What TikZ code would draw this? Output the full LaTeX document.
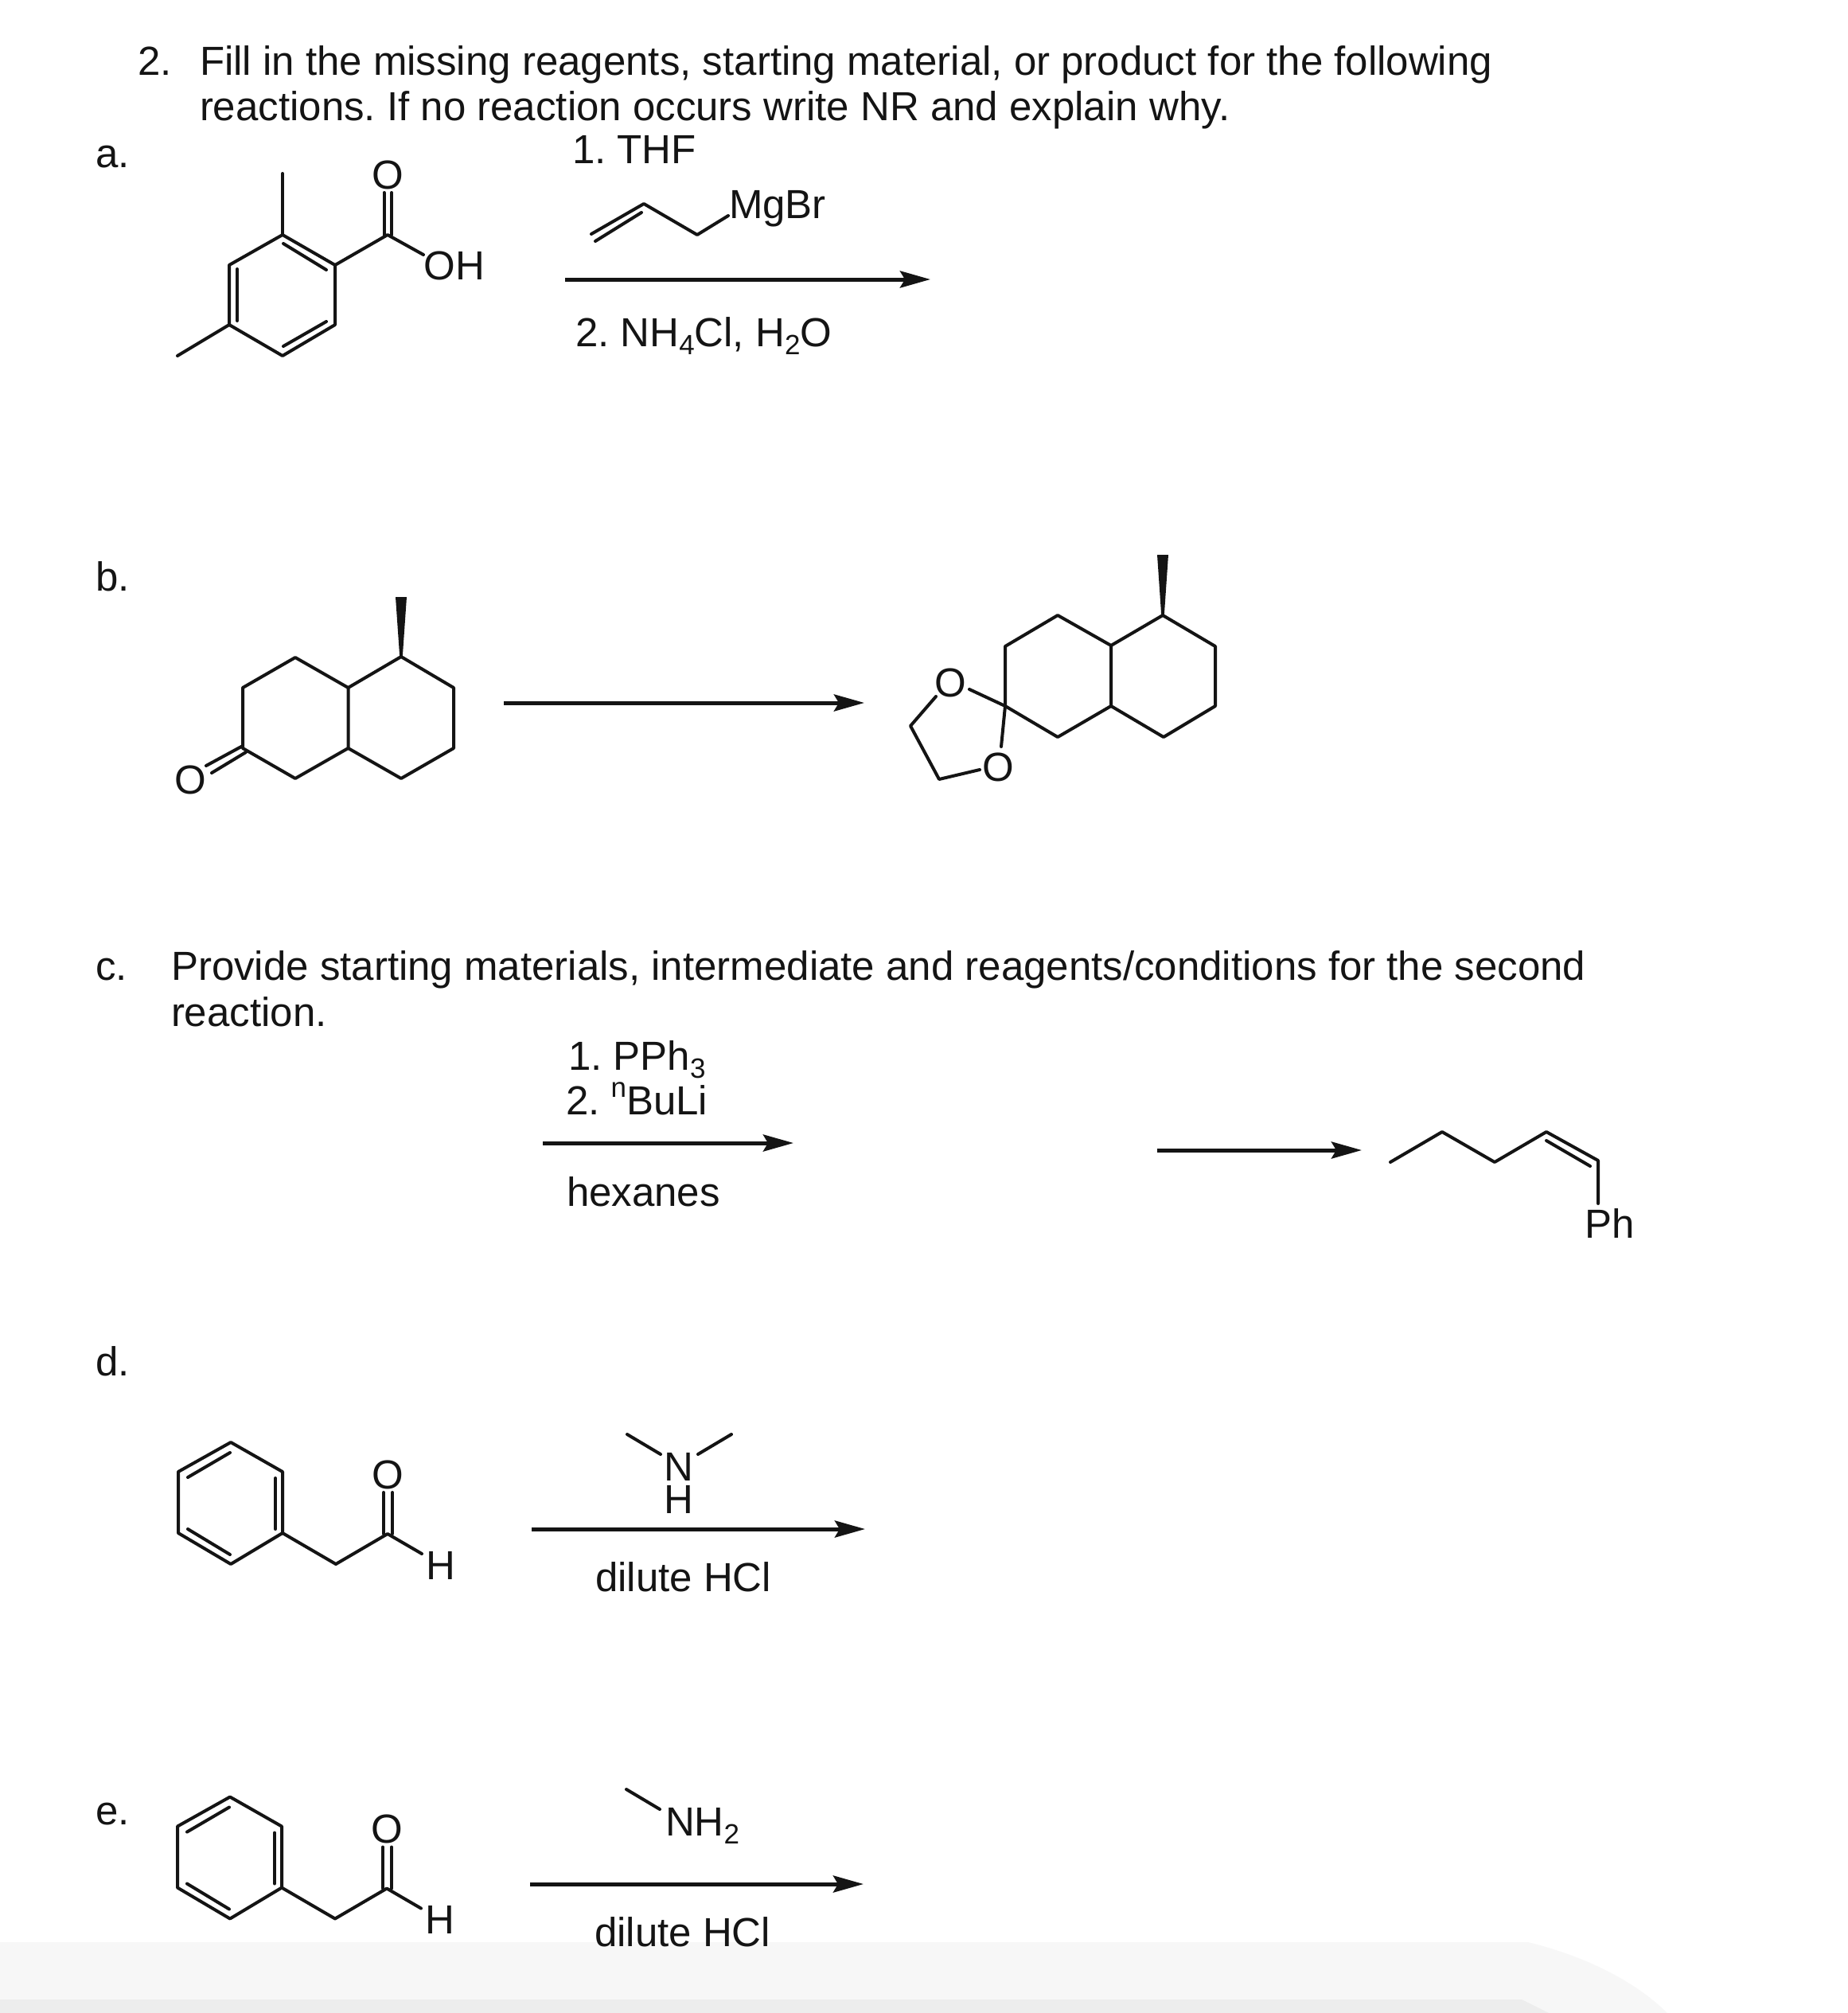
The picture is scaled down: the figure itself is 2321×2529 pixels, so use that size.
\documentclass[tikz,border=0pt]{standalone}
\usepackage{fontspec}
\setmainfont{Liberation Sans}
\usetikzlibrary{arrows.meta}
\definecolor{ink}{HTML}{141414}
\definecolor{bandA}{HTML}{F7F7F7}
\definecolor{bandB}{HTML}{EDEDED}
\frenchspacing
\newcommand{\lsub}[1]{\raisebox{-0.2em}{\fontsize{35}{35}\selectfont #1}}
\newcommand{\lsup}[1]{\raisebox{0.42em}{\fontsize{35}{35}\selectfont #1}}
\tikzset{
  bond/.style={draw=ink,line width=4pt,line cap=round,line join=round},
  rxn/.style={draw=ink,line width=5pt,-{Stealth[length=38pt,width=21pt,inset=6pt]}},
  lab/.style={inner sep=0pt,outer sep=0pt,text=ink,font=\fontsize{51}{51}\selectfont,text height=36.5pt,text depth=0pt},
  txt/.style={lab,anchor=west},
  wedge/.style={fill=ink,draw=none},
  phcho/.pic={
    \coordinate (r1) at (290,1812);
    \coordinate (r2) at (355,1849);
    \coordinate (r3) at (355,1926);
    \coordinate (r4) at (290,1965);
    \coordinate (r5) at (224,1926);
    \coordinate (r6) at (224,1849);
    \coordinate (i1) at (289,1825);
    \coordinate (i2) at (236,1856);
    \coordinate (i3) at (346,1857);
    \coordinate (i4) at (346,1921);
    \coordinate (i5) at (236,1921);
    \coordinate (i6) at (289,1953);
    \coordinate (ch) at (422,1965);
    \coordinate (co) at (487,1927);
    \coordinate (coa) at (482,1927);
    \coordinate (cob) at (493,1927);
    \coordinate (oa) at (482,1875);
    \coordinate (ob) at (493,1875);
    \coordinate (hb) at (530,1952);
    \node[lab] (oxy) at (487,1852) {O};
    \node[lab] (hyd) at (554,1966) {H};
    \draw[bond] (r1) -- (r2) -- (r3) -- (r4) -- (r5) -- (r6) -- cycle;
    \draw[bond] (i1) -- (i2);
    \draw[bond] (i3) -- (i4);
    \draw[bond] (i5) -- (i6);
    \draw[bond] (r3) -- (ch) -- (co) -- (hb);
    \draw[bond] (coa) -- (oa);
    \draw[bond] (cob) -- (ob);
  }
}
\begin{document}
\begin{tikzpicture}[x=1pt,y=-1pt]
\useasboundingbox (0,0) rectangle (2321,2529);
\fill[white] (0,0) rectangle (2321,2529);
\fill[bandA] (0,2440) -- (1920,2440) .. controls (1985,2456) and (2050,2485) .. (2095,2529) -- (0,2529) -- cycle;
\fill[bandB] (0,2512) -- (1912,2512) -- (1946,2529) -- (0,2529) -- cycle;

% heading
\node[txt] (n2) at (173,76) {2.};
\node[txt] (h1) at (251,76) {Fill in the missing reagents, starting material, or product for the following};
\node[txt] (h2) at (251,133) {reactions. If no reaction occurs write NR and explain why.};
\node[txt] (la) at (120,192) {a.};
\node[txt] (lb) at (120,724) {b.};
\node[txt] (lc) at (120,1213) {c.};
\node[txt] (ld) at (120,1710) {d.};
\node[txt] (le) at (120,2274) {e.};
\node[txt] (c1) at (215,1213) {Provide starting materials, intermediate and reagents/conditions for the second};
\node[txt] (c2) at (215,1271) {reaction.};

% a: acid
\coordinate (am1) at (355,218);
\coordinate (a1) at (355,295);
\coordinate (a2) at (421,333);
\coordinate (a3) at (421,408);
\coordinate (a4) at (355,447);
\coordinate (a5) at (288,408);
\coordinate (a6) at (288,333);
\coordinate (am2) at (223,447);
\coordinate (ac) at (487,295);
\coordinate (aca) at (482.5,295);
\coordinate (acb) at (492,295);
\coordinate (aoa) at (482.5,242);
\coordinate (aob) at (492,242);
\coordinate (aoh) at (532,320);
\coordinate (ai1) at (356,306);
\coordinate (ai2) at (410,339);
\coordinate (ai3) at (298,338);
\coordinate (ai4) at (298,403);
\coordinate (ai5) at (356,435);
\coordinate (ai6) at (410,404);
\draw[bond] (a1) -- (a2) -- (a3) -- (a4) -- (a5) -- (a6) -- cycle;
\draw[bond] (ai1) -- (ai2);
\draw[bond] (ai3) -- (ai4);
\draw[bond] (ai5) -- (ai6);
\draw[bond] (am1) -- (a1);
\draw[bond] (a5) -- (am2);
\draw[bond] (a2) -- (ac) -- (aoh);
\draw[bond] (aca) -- (aoa);
\draw[bond] (acb) -- (aob);
\node[lab] (ao) at (487,219) {O};
\node[lab] (oh) at (571,333) {OH};
% a: reagents
\node[txt] (thf) at (719,187) {1. THF};
\coordinate (g1) at (743,294);
\coordinate (g1b) at (748,303);
\coordinate (g2) at (809,256);
\coordinate (g2b) at (806,267);
\coordinate (g3) at (876,295);
\coordinate (g4) at (915,271);
\draw[bond] (g1) -- (g2) -- (g3) -- (g4);
\draw[bond] (g1b) -- (g2b);
\node[txt] (mg) at (916,256) {MgBr};
\coordinate (ar1a) at (710,351);
\coordinate (ar1b) at (1169,351);
\draw[rxn] (ar1a) -- (ar1b);
\node[txt] (nh) at (723,417) {2. NH\lsub{4}Cl, H\lsub{2}O};

% b: ketone
\coordinate (bw) at (504,750);
\coordinate (b1) at (504,825);
\coordinate (b2) at (570,864);
\coordinate (b3) at (570,940);
\coordinate (b4) at (504,978);
\coordinate (b5) at (437.5,940);
\coordinate (b6) at (437.5,864);
\coordinate (b7) at (371,826);
\coordinate (b8) at (305,864);
\coordinate (b9) at (305,940);
\coordinate (b10) at (371,978);
\coordinate (bca) at (305,937);
\coordinate (bcb) at (309,945);
\coordinate (boa) at (259,962);
\coordinate (bob) at (266,971);
\draw[bond] (b1) -- (b2) -- (b3) -- (b4) -- (b5) -- (b6) -- cycle;
\draw[bond] (b6) -- (b7) -- (b8) -- (b9) -- (b10) -- (b5);
\draw[bond] (bca) -- (boa);
\draw[bond] (bcb) -- (bob);
\fill[wedge] ([xshift=-7pt]bw) -- ([xshift=7pt]bw) -- ([xshift=1.8pt]b1) -- ([xshift=-1.8pt]b1) -- cycle;
\node[lab] (bo) at (239,979) {O};
\coordinate (ar2a) at (633,883);
\coordinate (ar2b) at (1086,883);
\draw[rxn] (ar2a) -- (ar2b);
% b: ketal
\coordinate (kw) at (1461,697);
\coordinate (k1) at (1461,773);
\coordinate (k2) at (1527,812);
\coordinate (k3) at (1527,887);
\coordinate (k4) at (1462,926);
\coordinate (k5) at (1396,887);
\coordinate (k6) at (1396,811);
\coordinate (k7) at (1329,773);
\coordinate (k8) at (1263,812);
\coordinate (k9) at (1263,887);
\coordinate (k10) at (1329,926);
\coordinate (ko1b) at (1218,866);
\coordinate (ko2b) at (1258,938);
\coordinate (ke1) at (1176,875);
\coordinate (ke2) at (1144,912);
\coordinate (ke3) at (1180,979);
\coordinate (ke4) at (1231,967);
\draw[bond] (k1) -- (k2) -- (k3) -- (k4) -- (k5) -- (k6) -- cycle;
\draw[bond] (k6) -- (k7) -- (k8) -- (k9) -- (k10) -- (k5);
\draw[bond] (ko1b) -- (k9) -- (ko2b);
\draw[bond] (ke1) -- (ke2) -- (ke3) -- (ke4);
\fill[wedge] ([xshift=-7pt]kw) -- ([xshift=7pt]kw) -- ([xshift=1.8pt]k1) -- ([xshift=-1.8pt]k1) -- cycle;
\node[lab] (ko1) at (1194,857) {O};
\node[lab] (ko2) at (1254,963) {O};

% c
\node[txt] (pph) at (714,1326) {1. PPh\lsub{3}};
\node[txt] (buli) at (711,1382) {2. \lsup{n}BuLi};
\coordinate (ar3a) at (682,1436);
\coordinate (ar3b) at (997,1436);
\draw[rxn] (ar3a) -- (ar3b);
\node[txt] (hex) at (712,1497) {hexanes};
\coordinate (ar4a) at (1454,1445);
\coordinate (ar4b) at (1711,1445);
\draw[rxn] (ar4a) -- (ar4b);
\coordinate (z1) at (1747,1460);
\coordinate (z2) at (1812,1422);
\coordinate (z3) at (1878,1460);
\coordinate (z4) at (1943,1422);
\coordinate (z5) at (2008,1458);
\coordinate (z6) at (2008,1512);
\coordinate (zi1) at (1943,1433);
\coordinate (zi2) at (1998,1465);
\draw[bond] (z1) -- (z2) -- (z3) -- (z4) -- (z5) -- (z6);
\draw[bond] (zi1) -- (zi2);
\node[lab] (ph) at (2023,1537) {Ph};

% d
\pic (d) at (0,0) {phcho};
\coordinate (m1) at (788,1802);
\coordinate (m2) at (830,1827);
\coordinate (m3) at (919,1802);
\coordinate (m4) at (877,1827);
\draw[bond] (m1) -- (m2);
\draw[bond] (m3) -- (m4);
\node[lab] (dn) at (853,1842) {N};
\node[lab] (dh) at (853,1883) {H};
\coordinate (ar5a) at (668,1921);
\coordinate (ar5b) at (1087,1921);
\draw[rxn] (ar5a) -- (ar5b);
\node[txt] (dh1) at (748,1981) {dilute HCl};

% e
\pic (e) at (-1,445.5) {phcho};
\coordinate (e1) at (787,2248);
\coordinate (e2) at (829,2273);
\draw[bond] (e1) -- (e2);
\node[txt] (nh2) at (836,2288) {NH\lsub{2}};
\coordinate (ar6a) at (666,2367);
\coordinate (ar6b) at (1085,2367);
\draw[rxn] (ar6a) -- (ar6b);
\node[txt] (dh2) at (747,2427) {dilute HCl};
\end{tikzpicture}
\end{document}
